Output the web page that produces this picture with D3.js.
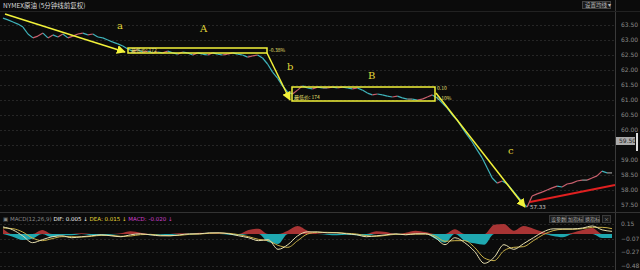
<!DOCTYPE html>
<html>
<head>
<meta charset="utf-8">
<script src="https://cdn.jsdelivr.net/npm/d3@7"></script>
<style>
  html, body { margin: 0; padding: 0; background: #0b0b0b; }
  svg { display: block; }
</style>
</head>
<body>
<svg id="chart" width="640" height="270"></svg>
<script>
// price closes, roughly one every few bars
const closes = [
  63.73, 63.67, 63.60, 63.53, 63.43, 63.20, 63.07, 63.13, 63.23, 63.07,
  63.17, 63.10, 63.20, 63.07, 63.13, 63.20, 63.23, 63.17, 63.20, 63.10,
  63.07, 63.00, 62.93, 62.87, 62.80, 62.70, 62.63, 62.67, 62.60, 62.63,
  62.57, 62.60, 62.57, 62.63, 62.57, 62.53, 62.60, 62.57, 62.50, 62.57,
  62.53, 62.50, 62.57, 62.53, 62.50, 62.53, 62.57, 62.53, 62.50, 62.43,
  62.47, 62.50, 62.40, 62.20, 61.93, 61.73, 61.47, 61.27, 61.20, 61.33,
  61.47, 61.40, 61.37, 61.43, 61.40, 61.40, 61.43, 61.40, 61.43, 61.40,
  61.37, 61.40, 61.33, 61.23, 61.17, 61.20, 61.17, 61.13, 61.10, 61.13,
  61.07, 61.03, 61.03, 61.00, 61.03, 61.10, 61.17, 61.07, 60.90, 60.73,
  60.50, 60.33, 60.07, 59.83, 59.60, 59.33, 59.07, 58.73, 58.40, 58.23,
  58.30, 58.20, 58.00, 57.80, 57.60, 57.43, 57.80, 57.87, 57.93, 58.00,
  58.07, 58.13, 58.10, 58.20, 58.23, 58.30, 58.33, 58.33, 58.40, 58.47,
  58.63, 58.57, 58.57
];

const priceTicks = [63.5, 63.0, 62.5, 62.0, 61.5, 61.0, 60.5, 60.0, 59.5, 59.0, 58.5, 58.0, 57.5];
const markPrice = 59.5;

// MACD panel
const dif = [
  0.106, 0.062, -0.027, -0.13, -0.086, -0.041, -0.027, -0.056, -0.041, -0.027,
  -0.012, -0.027, -0.041, -0.012, 0.003, -0.012, -0.027, -0.027, -0.012, 0.003,
  0.003, 0.018, 0.018, 0.003, -0.027, -0.056, -0.10, -0.086, -0.23, -0.16,
  -0.027, 0.032, 0.032, 0.018, 0.018, 0.003, -0.012, -0.041, -0.027, -0.012,
  0.003, -0.012, 0.003, 0.003, -0.056, -0.16, -0.056, -0.13, -0.26, -0.44,
  -0.35, -0.16, -0.23, -0.145, -0.056, 0.032, 0.077, 0.077, 0.077, 0.09,
  0.12, 0.062, 0.04
];
const dea = [
  0.09, 0.08, 0.03, -0.06, -0.1, -0.07, -0.04, -0.04, -0.045, -0.035,
  -0.02, -0.02, -0.035, -0.03, -0.01, -0.005, -0.02, -0.025, -0.02, -0.005,
  0.0, 0.01, 0.015, 0.01, -0.01, -0.04, -0.08, -0.1, -0.17, -0.2,
  -0.1, 0.0, 0.025, 0.025, 0.02, 0.01, 0.0, -0.025, -0.035, -0.02,
  -0.005, -0.005, -0.002, 0.0, -0.03, -0.11, -0.1, -0.1, -0.2, -0.36,
  -0.4, -0.25, -0.2, -0.19, -0.1, -0.01, 0.05, 0.07, 0.07, 0.08,
  0.1, 0.1, 0.08
];
const hist = [
  0.08, -0.04, -0.09, -0.07, 0.06, -0.05, -0.02, -0.02, 0.01, -0.02,
  -0.03, -0.01, 0.01, 0.04, 0.02, -0.02, -0.01, -0.02, 0.01, -0.01,
  0.02, 0.01, 0.01, -0.01, -0.02, 0.06, 0.08, -0.12, -0.15, 0.05,
  0.12, 0.05, 0.01, -0.01, -0.02, -0.01, -0.02, -0.03, 0.04, 0.03,
  -0.01, 0.02, 0.05, 0.03, -0.07, -0.13, 0.07, -0.10, -0.14, -0.16,
  0.14, 0.15, 0.05, 0.12, 0.08, 0.03, -0.03, -0.05, 0.02, 0.06,
  0.09, -0.06, -0.06
];
const macdTicks = [0.15, -0.07, -0.27, -0.48];

const svg = d3.select('#chart');
const W = 640, H = 270;
const plotRight = 615;

svg.append('rect').attr('width', W).attr('height', H).attr('fill', '#0b0b0b');

const x = d3.scaleLinear().domain([0, closes.length - 1]).range([3, 612]);
const y = d3.scaleLinear().domain([63.5, 57.5]).range([25, 205]);
const xm = d3.scaleLinear().domain([0, dif.length - 1]).range([3, 612]);
const ym = d3.scaleLinear().domain([0.15, -0.48]).range([224, 266]);

const cjk = '"Noto Sans CJK SC", "Noto Sans", sans-serif';
const yellow = '#f2f23a';

// frame lines
svg.append('line').attr('x1', plotRight + 0.5).attr('x2', plotRight + 0.5).attr('y1', 0).attr('y2', H)
  .attr('stroke', '#3a3a3a').attr('stroke-width', 1);
svg.append('line').attr('x1', 0).attr('x2', W).attr('y1', 11.5).attr('y2', 11.5)
  .attr('stroke', '#222');
svg.append('line').attr('x1', 0).attr('x2', W).attr('y1', 212.5).attr('y2', 212.5)
  .attr('stroke', '#333');

// price grid + axis
const pg = svg.append('g');
pg.selectAll('line').data(priceTicks).enter().append('line')
  .attr('x1', 0).attr('x2', plotRight)
  .attr('y1', d => Math.round(y(d)) + 0.5).attr('y2', d => Math.round(y(d)) + 0.5)
  .attr('stroke', '#262626').attr('stroke-dasharray', '2,2');
// the marked price gets its own highlighted label below
pg.selectAll('text').data(priceTicks.filter(d => d !== markPrice)).enter().append('text')
  .attr('x', 621).attr('y', d => y(d) + 2)
  .attr('fill', '#8a8a8a').attr('font-size', 6).attr('font-family', 'DejaVu Sans, sans-serif')
  .text(d => d3.format('.2f')(d));

// macd grid + axis
const mg = svg.append('g');
mg.selectAll('line').data(macdTicks).enter().append('line')
  .attr('x1', 0).attr('x2', plotRight)
  .attr('y1', d => Math.round(ym(d)) + 0.5).attr('y2', d => Math.round(ym(d)) + 0.5)
  .attr('stroke', '#262626').attr('stroke-dasharray', '2,2');
mg.selectAll('text').data(macdTicks).enter().append('text')
  .attr('x', 621).attr('y', d => ym(d) + 2)
  .attr('fill', '#8a8a8a').attr('font-size', 6).attr('font-family', 'DejaVu Sans, sans-serif')
  .text(d => d3.format('.2f')(d));

// price line, coloured by direction
const segs = closes.slice(1).map((c, i) => ({ i: i + 1, a: closes[i], b: c }));
svg.append('g').selectAll('line').data(segs).enter().append('line')
  .attr('x1', d => x(d.i - 1)).attr('x2', d => x(d.i))
  .attr('y1', d => y(d.a)).attr('y2', d => y(d.b))
  .attr('stroke', d => d.b > d.a ? '#c9606e' : (d.b < d.a ? '#3fb3ba' : '#9a9a9a'))
  .attr('stroke-width', 1.2);

// macd histogram
const areaUp = d3.area().curve(d3.curveMonotoneX)
  .x((d, i) => xm(i)).y0(ym(0)).y1(d => ym(Math.max(d, 0)));
const areaDn = d3.area().curve(d3.curveMonotoneX)
  .x((d, i) => xm(i)).y0(ym(0)).y1(d => ym(Math.min(d, 0)));
svg.append('path').datum(hist).attr('d', areaUp).attr('fill', '#a83434');
svg.append('path').datum(hist).attr('d', areaDn).attr('fill', '#1fa8b0');

const mline = d3.line().curve(d3.curveMonotoneX).x((d, i) => xm(i)).y(d => ym(d));
svg.append('path').datum(dea).attr('d', mline).attr('fill', 'none')
  .attr('stroke', '#c8b048').attr('stroke-width', 1);
svg.append('path').datum(dif).attr('d', mline).attr('fill', 'none')
  .attr('stroke', '#e8e0b0').attr('stroke-width', 1);

// title
svg.append('text').attr('x', 3).attr('y', 8).attr('fill', '#ddd')
  .attr('font-size', 6.5).attr('font-family', cjk).text('NYMEX原油 (5分钟线前复权)');

// top-right button
svg.append('rect').attr('x', 582.5).attr('y', 1.5).attr('width', 28).attr('height', 7)
  .attr('fill', '#1a1a1a').attr('stroke', '#444');
svg.append('text').attr('x', 585).attr('y', 7.3).attr('fill', '#bbb')
  .attr('font-size', 5.5).attr('font-family', cjk).text('设置均线 ▾');

// annotations
const defs = svg.append('defs');
defs.append('marker').attr('id', 'arr').attr('viewBox', '0 0 10 10')
  .attr('refX', 9).attr('refY', 5).attr('markerWidth', 6).attr('markerHeight', 6)
  .attr('orient', 'auto')
  .append('path').attr('d', 'M0,0 L10,5 L0,10 z').attr('fill', yellow);

const ann = svg.append('g').attr('stroke', yellow).attr('stroke-width', 1.5).attr('fill', 'none');
ann.append('line').attr('x1', 5).attr('y1', 14).attr('x2', 125).attr('y2', 52).attr('marker-end', 'url(#arr)');
ann.append('rect').attr('x', 128).attr('y', 48).attr('width', 139).attr('height', 5);
ann.append('line').attr('x1', 267).attr('y1', 53).attr('x2', 290).attr('y2', 100).attr('marker-end', 'url(#arr)');
ann.append('rect').attr('x', 292).attr('y', 87).attr('width', 143).attr('height', 14);
ann.append('line').attr('x1', 436).attr('y1', 93).attr('x2', 525).attr('y2', 207).attr('marker-end', 'url(#arr)');

svg.append('line').attr('x1', 530).attr('y1', 202).attr('x2', 615).attr('y2', 185)
  .attr('stroke', '#e02020').attr('stroke-width', 1.8);

const letters = [['a', 117, 29], ['A', 200, 32], ['b', 287, 70], ['B', 368, 79], ['c', 508, 154]];
svg.append('g').selectAll('text').data(letters).enter().append('text')
  .attr('x', d => d[1]).attr('y', d => d[2]).attr('fill', '#e0d83a')
  .attr('font-size', 10).attr('font-family', 'DejaVu Serif, serif').text(d => d[0]);

const smallTxt = [['最低价: 172', 131, 52.3], ['-0.38%', 269, 52], ['最低价: 174', 294, 99], ['0.10', 437, 90], ['0.10%', 437, 100]];
svg.append('g').selectAll('text').data(smallTxt).enter().append('text')
  .attr('x', d => d[1]).attr('y', d => d[2]).attr('fill', '#e8e070')
  .attr('font-size', 5).attr('font-family', cjk).text(d => d[0]);

svg.append('text').attr('x', 530).attr('y', 209).attr('fill', '#ccc')
  .attr('font-size', 5.5).attr('font-family', 'DejaVu Sans, sans-serif').text('57.33');

// current price marker + scrollbar
svg.append('rect').attr('x', 616).attr('y', 137).attr('width', 19).attr('height', 8).attr('fill', '#aaa');
svg.append('text').attr('x', 619).attr('y', 143.2).attr('fill', '#222')
  .attr('font-size', 6).attr('font-family', 'DejaVu Sans, sans-serif').text(d3.format('.2f')(markPrice));
svg.append('rect').attr('x', 636).attr('y', 133).attr('width', 2).attr('height', 18).attr('fill', '#ddd');

// macd header
const hdr = svg.append('text').attr('x', 3).attr('y', 220.5)
  .attr('font-size', 5.5).attr('font-family', 'DejaVu Sans, sans-serif');
hdr.append('tspan').attr('fill', '#888').text('▣ MACD(12,26,9)  ');
hdr.append('tspan').attr('fill', '#eee').text('DIF: 0.005 ↓  ');
hdr.append('tspan').attr('fill', '#e8d838').text('DEA: 0.015 ↓  ');
hdr.append('tspan').attr('fill', '#d040d0').text('MACD: -0.020 ↓');

// macd buttons
const btns = [['设参数', 551], ['加指标', 568], ['换指标', 585], ['×', 604]];
const bg = svg.append('g');
bg.selectAll('rect').data(btns).enter().append('rect')
  .attr('x', d => d[1] - 1.5).attr('y', 215.5)
  .attr('width', d => d[0] === '×' ? 8 : 16).attr('height', 7)
  .attr('fill', '#1a1a1a').attr('stroke', '#3a3a3a');
bg.selectAll('text').data(btns).enter().append('text')
  .attr('x', d => d[1]).attr('y', 221)
  .attr('fill', '#aaa').attr('font-size', 5).attr('font-family', cjk).text(d => d[0]);
</script>
</body>
</html>
